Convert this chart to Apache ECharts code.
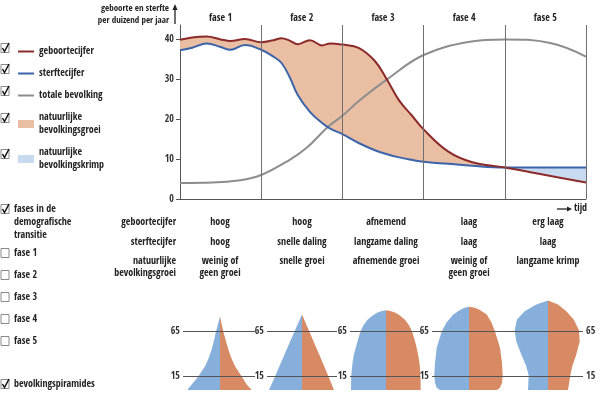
<!DOCTYPE html>
<html>
<head>
<meta charset="utf-8">
<script src="https://cdn.jsdelivr.net/npm/echarts@6/dist/echarts.min.js"></script>
<style>html,body{margin:0;padding:0;background:#fff}#chart{width:600px;height:400px}</style>
</head>
<body>
<div id="chart"></div>
<script>
// fases op de tijd-as (0..5), waarden per duizend per jaar
const phaseNames = ['fase 1', 'fase 2', 'fase 3', 'fase 4', 'fase 5'];
const phaseBounds = [1, 2, 3, 4, 5];
const timeSteps = [0, 0.15, 0.33, 0.5, 0.62, 0.8, 1.0, 1.15, 1.25, 1.35, 1.45, 1.6, 1.75, 1.85, 2.0,
  2.2, 2.4, 2.55, 2.7, 2.85, 3.0, 3.3, 3.6, 4.0, 4.5, 5.0];
const birthRate = [39.8, 40.4, 40.6, 39.9, 39.5, 40.0, 39.2, 39.7, 40.2, 39.6, 38.7, 39.7, 38.4, 38.9, 38.6,
  37.8, 34.5, 29.8, 24.6, 21.0, 17.4, 11.9, 9.2, 7.9, 6.0, 4.1];
const deathRate = [37.2, 37.8, 38.9, 38.0, 37.3, 38.5, 37.3, 35.6, 34.0, 30.5, 26.0, 21.8, 19.0, 17.6, 16.2,
  14.0, 12.2, 11.2, 10.4, 9.8, 9.3, 8.8, 8.3, 7.9, 7.9, 7.9];
const popSteps = [0, 0.4, 0.74, 1.0, 1.35, 1.56, 1.82, 2.0, 2.22, 2.55, 3.0, 3.57, 4.0, 4.56, 5.0];
const totalPopulation = [4.0, 4.1, 4.7, 6.0, 9.8, 12.8, 18.0, 20.8, 24.8, 29.9, 36.0, 39.3, 39.9, 39.0, 35.6];
const yTicks = [0, 10, 20, 30, 40];

// tabel onder de grafiek
const rowTitles = ['geboortecijfer', 'sterftecijfer', 'natuurlijke\nbevolkingsgroei'];
const birthText = ['hoog', 'hoog', 'afnemend', 'laag', 'erg laag'];
const deathText = ['hoog', 'snelle daling', 'langzame daling', 'laag', 'laag'];
const growthText = ['weinig of\ngeen groei', 'snelle groei', 'afnemende groei', 'weinig of\ngeen groei', 'langzame krimp'];

// bevolkingspiramides: [leeftijd, mannen (links), vrouwen (rechts)]
const pyramid1 = [[0, 32.7, 31.7], [6, 28.3, 26.7], [15, 21.7, 21.7], [26.5, 15, 15], [35, 11.5, 11.5],
  [45, 8.3, 8.3], [55, 6, 5.8], [65, 4, 3.3], [73, 2, 1.7], [82, 0, 0]];
const pyramid2 = [[0, 33, 32], [15, 27, 26.5], [40, 17.3, 17], [65, 7.5, 7.3], [84, 0, 0]];
const pyramid3 = [[0, 35, 34.7], [15, 34.8, 34.5], [30, 33.5, 33.5], [40, 32, 32], [50, 29.5, 30], [58, 27.5, 28],
  [65, 25.5, 26], [72, 22.5, 23], [78, 18.5, 19], [83, 13, 13.5], [86, 8.5, 9], [87.8, 4, 4.5], [88.5, 0, 0]];
const pyramid4 = [[0, 29, 27.7], [2.5, 32.3, 31], [8, 34, 33], [16, 34.7, 33.7], [30, 34, 33], [47, 32.3, 31],
  [65, 27.3, 26], [75, 22.5, 22.5], [84, 15.7, 17.7], [89, 9, 11], [91.5, 4.5, 6], [92.6, 0, 0]];
const pyramid5 = [[0, 20, 20], [16, 19.3, 22.3], [26.5, 21.7, 24.3], [39.4, 26.7, 28.3], [54, 31.7, 31.7],
  [66.4, 33.3, 31], [78.3, 31, 25.7], [87.6, 23.3, 18.3], [95, 11.7, 10], [99.4, 0, 0]];
const pyramids = [pyramid1, pyramid2, pyramid3, pyramid4, pyramid5];
const ageMarks = [15, 65];

const FONT = "'Open Sans Condensed', 'Roboto Condensed', sans-serif";
const RED = '#8c2a2a', BLUE = '#3b64ab', GREY = '#8d8d8d';
const FILL_UP = '#e9bea2', FILL_DOWN = '#c7daef';
const MEN = '#86afdb', WOMEN = '#d78a63';

const zip = (xs, ys) => xs.map((x, i) => [x, ys[i]]);
// voor de gestapelde vlakken staat de waarde eerst (dim 0 wordt gestapeld), de tijd tweede
const flip = (xs, ys) => xs.map((x, i) => [ys[i], x]);
const baseLine = flip(timeSteps, birthRate.map((b, i) => Math.min(b, deathRate[i])));
const growth = flip(timeSteps, birthRate.map((b, i) => Math.max(b - deathRate[i], 0)));
const shrink = flip(timeSteps, birthRate.map((b, i) => Math.max(deathRate[i] - b, 0)));

// layout van de piramide-kolommen: [midden, links, rechts] in px
const cols = [[220, 37, 35], [302, 35, 35], [386, 36, 34], [469, 37, 39], [548, 40, 35]];

function pyramidItem(params, api) {
  if (params.dataIndexInside !== 0) return;
  const n = params.dataInsideLength;
  const left = [api.coord([0, 0])], right = [api.coord([0, 0])];
  for (let i = 0; i < n; i++) {
    const age = api.value(0, i);
    left.push(api.coord([-api.value(1, i), age]));
    right.push(api.coord([api.value(2, i), age]));
  }
  const top = api.value(0, n - 1);
  left.push(api.coord([0, top]));
  right.push(api.coord([0, top]));
  return {
    type: 'group', children: [
      { type: 'polygon', shape: { points: left }, style: { fill: MEN } },
      { type: 'polygon', shape: { points: right }, style: { fill: WOMEN } }
    ]
  };
}

const S = 0.4;
const grids = [{ left: 180, right: 14, top: 25, bottom: 201 }];
const xAxes = [
  {
    type: 'value', gridIndex: 0, min: 0, max: 5, interval: 1,
    axisLine: { lineStyle: { color: '#555' } }, axisTick: { show: false }, axisLabel: { show: false },
    splitLine: { show: false }
  },
  {
    type: 'category', gridIndex: 0, position: 'top', data: phaseNames, boundaryGap: true,
    axisLine: { show: false }, axisTick: { show: false },
    axisLabel: { margin: 2, fontSize: 10, fontWeight: 'bold', fontFamily: FONT, color: '#222' }
  }
];
const yAxes = [{
  type: 'value', gridIndex: 0, min: 0, max: 43.5, interval: 10,
  axisLine: { show: true, lineStyle: { color: '#555' } },
  axisTick: { show: true, length: 4, customValues: yTicks, lineStyle: { color: '#555' } },
  axisLabel: { customValues: yTicks, margin: 6, fontSize: 10, fontWeight: 'bold', fontFamily: FONT, color: '#333' },
  splitLine: { show: false }
}];
const areaEncode = { x: 1, y: 0 };
const series = [
  { name: 'base', type: 'line', stack: 'nat', data: baseLine, encode: areaEncode, smooth: S, symbol: 'none',
    silent: true, lineStyle: { opacity: 0 }, z: 1 },
  { name: 'natuurlijke bevolkingsgroei', type: 'line', stack: 'nat', data: growth, encode: areaEncode, smooth: S,
    symbol: 'none', itemStyle: { color: FILL_UP }, lineStyle: { opacity: 0 },
    areaStyle: { color: FILL_UP, opacity: 1 }, z: 1 },
  { name: 'natuurlijke bevolkingskrimp', type: 'line', stack: 'nat', data: shrink, encode: areaEncode, smooth: S,
    symbol: 'none', itemStyle: { color: FILL_DOWN }, lineStyle: { opacity: 0 },
    areaStyle: { color: FILL_DOWN, opacity: 1 }, z: 1 },
  { name: 'totale bevolking', type: 'line', data: zip(popSteps, totalPopulation), smooth: S, symbol: 'none',
    itemStyle: { color: GREY }, lineStyle: { color: GREY, width: 2 }, z: 2,
    markLine: {
      silent: true, symbol: ['none', 'none'], label: { show: false }, animation: false,
      lineStyle: { color: '#707070', width: 1, type: 'solid' },
      data: phaseBounds.map(v => ({ xAxis: v }))
    } },
  { name: 'sterftecijfer', type: 'line', data: zip(timeSteps, deathRate), smooth: S, symbol: 'none',
    itemStyle: { color: BLUE }, lineStyle: { color: BLUE, width: 2 }, z: 3 },
  { name: 'geboortecijfer', type: 'line', data: zip(timeSteps, birthRate), smooth: S, symbol: 'none',
    itemStyle: { color: RED }, lineStyle: { color: RED, width: 2 }, z: 4 }
];

pyramids.forEach((p, i) => {
  const [c, hl, hr] = cols[i];
  grids.push({ left: c - hl, width: hl + hr, top: 300, bottom: 10 });
  xAxes.push({ type: 'value', gridIndex: i + 1, min: -hl, max: hr, show: false });
  yAxes.push({ type: 'value', gridIndex: i + 1, min: 0, max: 100, show: false });
  series.push({
    type: 'custom', xAxisIndex: i + 2, yAxisIndex: i + 1, data: p, renderItem: pyramidItem, silent: true,
    markLine: {
      silent: true, symbol: ['none', 'none'], animation: false,
      lineStyle: { color: '#555', width: 1, type: 'solid' },
      label: { position: i === 4 ? 'end' : 'start', distance: 3, formatter: '{c}', fontSize: 10,
        fontFamily: FONT, fontWeight: 'bold', color: '#333' },
      data: ageMarks.map(a => ({ yAxis: a }))
    }
  });
});

const option = {
  animation: false,
  grid: grids,
  xAxis: xAxes,
  yAxis: yAxes,
  legend: {
    orient: 'vertical', left: 13, top: 40, itemWidth: 16, itemHeight: 8, itemGap: 9, itemStyle: { borderWidth: 0 },
    selectedMode: false,
    textStyle: { fontSize: 10, fontWeight: 'bold', lineHeight: 13, fontFamily: FONT, color: '#222' },
    formatter: name => name.replace('natuurlijke ', 'natuurlijke\n'),
    data: [
      { name: 'geboortecijfer', icon: 'path://M0,0H16V2H0Z' },
      { name: 'sterftecijfer', icon: 'path://M0,0H16V2H0Z' },
      { name: 'totale bevolking', icon: 'path://M0,0H16V2H0Z' },
      { name: 'natuurlijke bevolkingsgroei', icon: 'rect' },
      { name: 'natuurlijke bevolkingskrimp', icon: 'rect' }
    ]
  },
  series: series
};

const chart = echarts.init(document.getElementById('chart'));
chart.setOption(option);

function text(x, y, s, align, size, lh) {
  return {
    type: 'text', x: x, y: y, silent: true,
    style: { text: s, align: align, verticalAlign: 'middle', lineHeight: lh || 13,
      font: 'bold ' + (size || 10) + 'px ' + FONT, fill: '#222' }
  };
}
function checkbox(y, checked) {
  const kids = [{ type: 'rect', shape: { x: 1, y: y - 4.5, width: 8, height: 9 },
    style: { fill: '#fff', stroke: '#8a8a8a', lineWidth: 1 } }];
  if (checked) kids.push({ type: 'polyline', shape: { points: [[2.5, y], [4.5, y + 3.5], [9, y - 5]] },
    style: { stroke: '#111', lineWidth: 1.5, fill: null } });
  return { type: 'group', silent: true, children: kids };
}

const colX = cols.map((c, i) => chart.convertToPixel({ xAxisIndex: i + 2 }, 0));
const g = [];
[48, 69, 91, 118, 154, 209, 384].forEach(y => g.push(checkbox(y, true)));
[253, 275, 297, 319, 341].forEach(y => g.push(checkbox(y, false)));
g.push(text(14, 222, 'fases in de\ndemografische\ntransitie', 'left'));
phaseNames.forEach((p, i) => g.push(text(14, 253 + 22 * i, p, 'left')));
g.push(text(14, 384, 'bevolkingspiramides', 'left'));

g.push(text(169, 15, 'geboorte en sterfte\nper duizend per jaar', 'right', 9, 12));
g.push({ type: 'line', silent: true, shape: { x1: 175, y1: 24, x2: 175, y2: 9 }, style: { stroke: '#222', lineWidth: 1.3 } });
g.push({ type: 'polygon', silent: true, shape: { points: [[172.5, 10], [177.5, 10], [175, 4]] }, style: { fill: '#222' } });
g.push({ type: 'line', silent: true, shape: { x1: 557, y1: 209, x2: 568, y2: 209 }, style: { stroke: '#222', lineWidth: 1.3 } });
g.push({ type: 'polygon', silent: true, shape: { points: [[567, 206.5], [567, 211.5], [572, 209]] }, style: { fill: '#222' } });
g.push(text(574, 208, 'tijd', 'left'));

const rowY = [222, 242, 267];
rowTitles.forEach((t, r) => g.push(text(176, rowY[r], t, 'right', 10, 12)));
[birthText, deathText, growthText].forEach((row, r) => {
  row.forEach((t, i) => g.push(text(colX[i], rowY[r] + (r === 2 && t.indexOf('\n') < 0 ? -6 : 0), t, 'center', 10, 12)));
});
chart.setOption({ graphic: g });
</script>
</body>
</html>
